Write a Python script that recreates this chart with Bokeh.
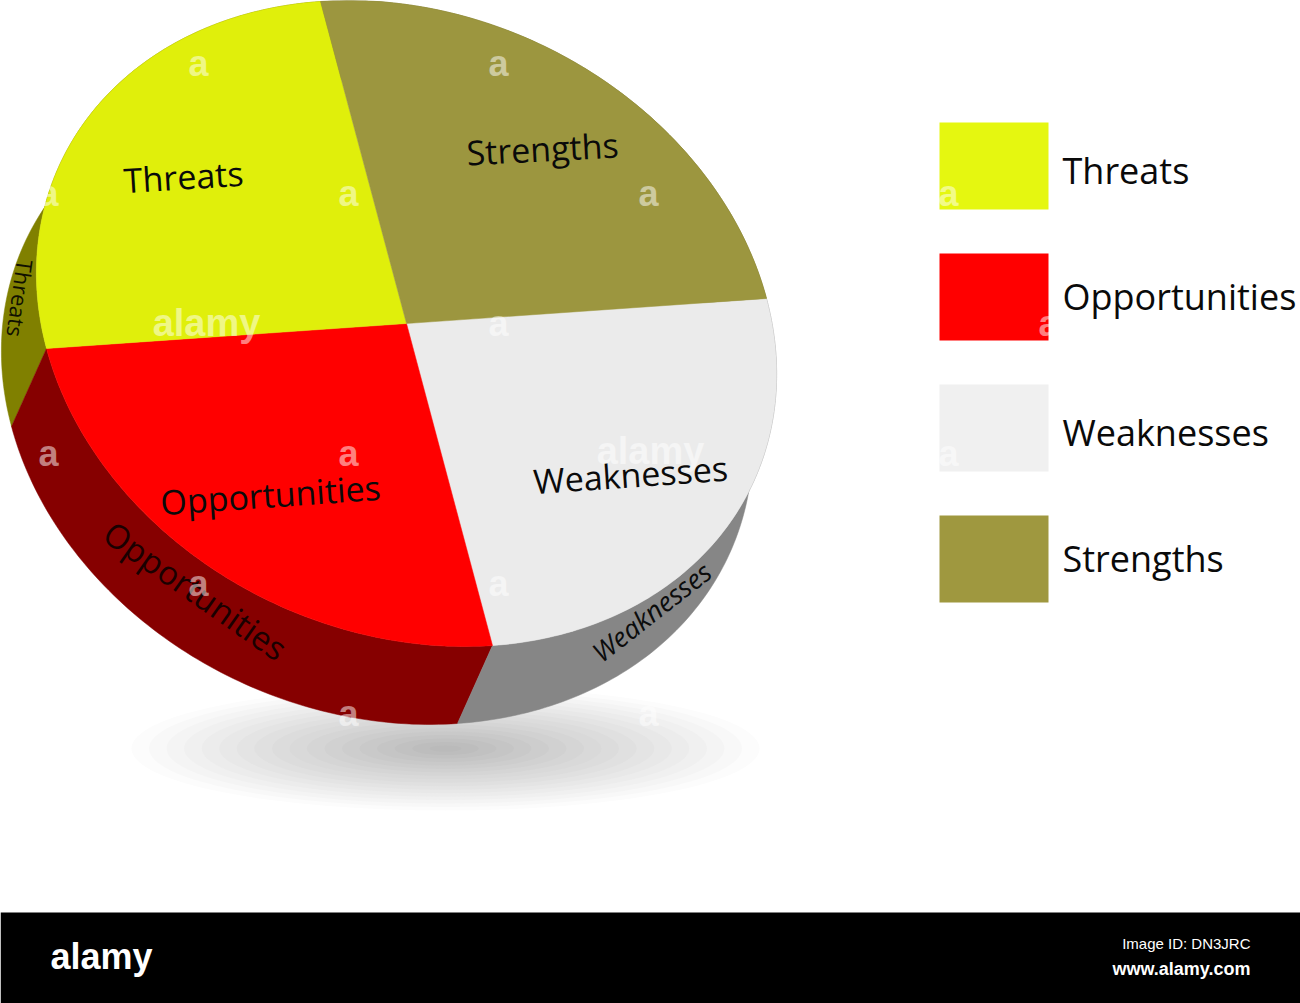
import numpy as np
from bokeh.plotting import figure
from bokeh.models import Range1d
from bokeh.core.properties import value
from bokeh.embed import file_html
from bokeh.resources import INLINE

# ---- data ----
categories = ["Weaknesses", "Opportunities", "Threats", "Strengths"]
shares = [25, 25, 25, 25]
top_colors = ["#ebebeb", "#ff0000", "#e0ef0b", "#9c963f"]
side_colors = ["#868686", "#860000", "#808000", "#6f6a20"]

legend_names = ["Threats", "Opportunities", "Weaknesses", "Strengths"]
legend_colors = ["#e5f710", "#ff0000", "#f0f0f0", "#9f983f"]

# ---- layout (picture pixels) ----
W, H = 1300, 1003
CENTER = np.array([406.0, 323.0])
AXIS_A = np.array([360.0, -25.0])
AXIS_B = np.array([86.0, 322.0])
DEPTH = np.array([-35.0, 78.0])
# the wall of the first slice leans a little less towards its far end
WALL_LEAN = [13.0, 0.0, 0.0, 0.0]
FONT = "Open Sans"
MARK = "Liberation Sans"


def ring(t):
    return (CENTER[0] + AXIS_A[0] * np.cos(t) + AXIS_B[0] * np.sin(t),
            CENTER[1] + AXIS_A[1] * np.cos(t) + AXIS_B[1] * np.sin(t))


edges = np.concatenate([[0], np.cumsum(shares)]) / np.sum(shares) * 2 * np.pi

p = figure(width=W, height=H, x_range=Range1d(0, W), y_range=Range1d(H, 0),
           output_backend="svg", toolbar_location=None, x_axis_type=None, y_axis_type=None,
           min_border=0, outline_line_color=None, background_fill_color="white")
p.grid.visible = False

# shadow on the floor
n_rings = 18
fracs = np.linspace(1, 0.05, n_rings)
shades = np.linspace(252, 186, n_rings).astype(int)
p.ellipse(x=[445] * n_rings, y=[748] * n_rings, width=list(628 * fracs), height=list(124 * fracs),
          fill_color=[f"#{s:02x}{s:02x}{s:02x}" for s in shades], line_color=None)

# side walls: drawn back to front
for i in [3, 2, 1, 0]:
    t = np.linspace(edges[i], edges[i + 1], 90)
    x, y = ring(t)
    lean = np.linspace(WALL_LEAN[i], 0, 90)
    xs = np.concatenate([x, (x + DEPTH[0] + lean)[::-1]])
    ys = np.concatenate([y, y[::-1] + DEPTH[1]])
    p.patch(xs, ys, fill_color=side_colors[i], line_color=side_colors[i], line_width=0.5)

# wall labels
p.text(x=[20], y=[298], text=["Threats"], angle=[-98], angle_units="deg", text_font=value(FONT),
       text_font_size="22px", text_color="#101000", text_align="center", text_baseline="middle")
p.text(x=[195], y=[590], text=["Opportunities"], angle=[-35], angle_units="deg", text_font=value(FONT),
       text_font_size="33px", text_color="#1a0000", text_align="center", text_baseline="middle")
p.text(x=[651], y=[611], text=["Weaknesses"], angle=[38], angle_units="deg", text_font=value(FONT),
       text_font_style="italic", text_font_size="27px", text_color="#0c0c0c",
       text_align="center", text_baseline="middle")

# top faces
for i in range(len(shares)):
    t = np.linspace(edges[i], edges[i + 1], 90)
    x, y = ring(t)
    p.patch(np.concatenate([[CENTER[0]], x]), np.concatenate([[CENTER[1]], y]),
            fill_color=top_colors[i], line_color=top_colors[i], line_width=0.5)

# slice labels
p.text(x=[183, 542, 270, 630], y=[176, 148, 494, 474],
       text=["Threats", "Strengths", "Opportunities", "Weaknesses"],
       angle=[3.5, 3, 4, 4], angle_units="deg", text_font=value(FONT), text_font_size="34px",
       text_color="#0a0a0a", text_align="center", text_baseline="middle")

# legend
p.quad(left=[939] * 4, right=[1048] * 4, top=[122, 253, 384, 515], bottom=[209, 340, 471, 602],
       fill_color=legend_colors, line_color=None)
p.text(x=[1062] * 4, y=[170, 296, 432, 558], text=legend_names, text_font=value(FONT),
       text_font_size="36px", text_color="#0a0a0a", text_align="left", text_baseline="middle")

# watermarks
wx = [198, 498, 48, 348, 648, 948, 498, 1048, 48, 348, 948, 198, 498, 348, 648]
wy = [63, 63, 193, 193, 193, 193, 323, 323, 453, 453, 453, 583, 583, 713, 713]
p.text(x=wx, y=wy, text=["a"] * len(wx), text_font=value(MARK), text_font_style="bold",
       text_font_size="36px", text_color="white", text_alpha=0.5, text_align="center",
       text_baseline="middle")
p.text(x=[206, 650], y=[322, 450], text=["alamy", "alamy"], text_font=value(MARK),
       text_font_style="bold", text_font_size="38px", text_color="white", text_alpha=0.5,
       text_align="center", text_baseline="middle")

# footer
p.quad(left=[0], right=[W], top=[912], bottom=[H], fill_color="black", line_color=None)
p.text(x=[101], y=[956], text=["alamy"], text_font=value(MARK), text_font_style="bold",
       text_font_size="36px", text_color="white", text_align="center", text_baseline="middle")
p.text(x=[1250], y=[943], text=["Image ID: DN3JRC"], text_font=value(MARK), text_font_size="15px",
       text_color="white", text_align="right", text_baseline="middle")
p.text(x=[1250], y=[968], text=["www.alamy.com"], text_font=value(MARK), text_font_style="bold",
       text_font_size="18px", text_color="white", text_align="right", text_baseline="middle")

open("out.html", "w").write(file_html(p, INLINE))
